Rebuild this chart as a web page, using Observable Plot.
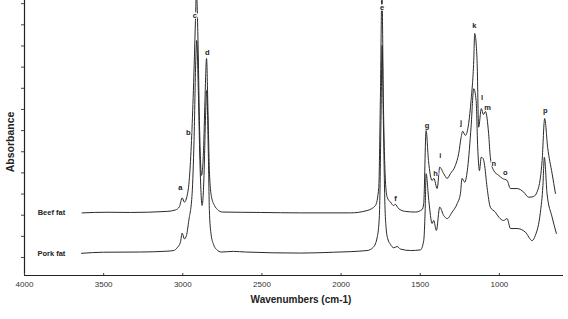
<!DOCTYPE html>
<html>
<head>
<meta charset="utf-8">
<script src="https://cdn.jsdelivr.net/npm/d3@7"></script>
<script src="https://cdn.jsdelivr.net/npm/@observablehq/plot@0.6"></script>
<style>
  html, body { margin: 0; padding: 0; background: #fff; }
  #chart svg { display: block; }
</style>
</head>
<body>
<div id="chart"></div>
<script>
// Beef fat spectrum (wavenumber cm-1, absorbance, offset trace)
const beefWn  = [3636,3478,3330,3099,3046,3021,3004,2990,2974,2958,2945,2933,2920,2914,2904,2895,2882,2869,2860,2850,2841,2832,2819,2800,2781,2750,2510,2257,1941,1836,1783,1762,1752,1742,1733,1720,1709,1688,1669,1657,1638,1594,1530,1488,1478,1463,1448,1425,1414,1393,1377,1352,1330,1309,1278,1257,1242,1232,1215,1194,1179,1162,1156,1141,1131,1114,1101,1088,1068,1057,1036,1004,981,951,930,888,846,815,785,752,730,714,695,667,646];
const beefAbs = [0.296,0.299,0.298,0.303,0.310,0.326,0.367,0.347,0.373,0.463,0.638,0.875,1.205,1.347,1.111,0.733,0.473,0.591,0.827,1.026,0.780,0.496,0.373,0.331,0.312,0.300,0.298,0.296,0.296,0.307,0.331,0.416,0.827,1.347,0.827,0.449,0.370,0.347,0.331,0.336,0.317,0.303,0.300,0.312,0.340,0.685,0.544,0.449,0.459,0.411,0.512,0.482,0.459,0.482,0.520,0.577,0.652,0.682,0.662,0.719,0.827,1.016,1.144,1.016,0.701,0.789,0.761,0.775,0.671,0.558,0.496,0.473,0.459,0.449,0.411,0.411,0.394,0.370,0.373,0.417,0.544,0.742,0.605,0.482,0.388];

// Pork fat spectrum
const porkWn  = [3640,3501,3267,3099,3057,3036,3015,3004,2990,2977,2962,2941,2929,2918,2912,2902,2892,2878,2866,2857,2849,2839,2832,2822,2806,2787,2756,2680,2604,2257,2048,1836,1796,1771,1758,1748,1741,1733,1723,1716,1705,1688,1668,1646,1625,1562,1499,1478,1469,1463,1446,1425,1415,1398,1377,1352,1330,1299,1267,1246,1236,1219,1200,1179,1162,1147,1137,1126,1115,1103,1095,1078,1057,1025,1004,973,951,930,888,836,793,773,741,725,716,699,667,640];
const porkAbs = [0.105,0.110,0.111,0.115,0.118,0.131,0.157,0.200,0.173,0.189,0.260,0.388,0.638,1.016,1.111,0.875,0.544,0.331,0.473,0.733,0.875,0.591,0.307,0.199,0.147,0.123,0.111,0.114,0.111,0.106,0.110,0.118,0.134,0.184,0.284,0.733,1.087,0.733,0.331,0.228,0.173,0.147,0.131,0.137,0.125,0.118,0.121,0.165,0.307,0.481,0.355,0.246,0.260,0.213,0.323,0.284,0.269,0.299,0.339,0.388,0.459,0.441,0.512,0.701,0.883,0.827,0.607,0.496,0.559,0.553,0.529,0.417,0.323,0.299,0.276,0.260,0.269,0.222,0.222,0.205,0.165,0.189,0.299,0.425,0.559,0.388,0.276,0.199];

// Series names and where they are written
const seriesNames = ["Beef fat", "Pork fat"];
const seriesLabelWn = [3830, 3830];
const seriesLabelAbs = [0.298, 0.104];

// Peak letters
const peakLetters = ["a","b","c","d","e","f","g","h","i","j","k","l","m","n","o","p"];
const peakWn  = [3015,2966,2924,2846,1741,1657,1457,1404,1373,1242,1158,1109,1074,1036,962,710];
const peakAbs = [0.417,0.677,1.229,1.056,1.267,0.364,0.709,0.482,0.567,0.725,1.182,0.843,0.796,0.529,0.487,0.780];

// Axis ticks
const xTicks = [4000,3500,3000,2500,2000,1500,1000];
const yTicks = [0.085,0.185,0.285,0.385,0.485,0.585,0.685,0.785,0.885,0.985,1.085,1.185,1.285];

const spectra = [
  ...beefWn.map((w, i) => ({series: seriesNames[0], wn: w, abs: beefAbs[i]})),
  ...porkWn.map((w, i) => ({series: seriesNames[1], wn: w, abs: porkAbs[i]}))
];
const seriesLabels = seriesNames.map((s, i) => ({name: s, wn: seriesLabelWn[i], abs: seriesLabelAbs[i]}));
const peaks = peakLetters.map((l, i) => ({letter: l, wn: peakWn[i], abs: peakAbs[i]}));

const font = "'Liberation Sans', Arial, sans-serif";

const chart = Plot.plot({
  width: 568,
  height: 319,
  marginLeft: 24,
  marginRight: 5,
  marginTop: 0,
  marginBottom: 44,
  style: {fontFamily: font, background: "#fff", color: "#222"},
  x: {domain: [4000, 595]},
  y: {domain: [0, 1.3]},
  marks: [
    Plot.line(spectra, {x: "wn", y: "abs", z: "series", stroke: "#2a2a2a", strokeWidth: 1, curve: "monotone-x", clip: true}),
    Plot.ruleX([4000], {stroke: "#222", strokeWidth: 1.2}),
    Plot.ruleY([0], {stroke: "#222", strokeWidth: 1.2}),
    Plot.axisX({ticks: xTicks, tickSize: -2, tickPadding: 8, fontSize: 8, label: null, tickFormat: d => String(d), stroke: "#444", fill: "#333"}),
    Plot.axisY({ticks: yTicks, tickSize: 3, tickFormat: () => "", label: null, stroke: "#444"}),
    Plot.text(seriesLabels, {x: "wn", y: "abs", text: "name", fontSize: 7.5, fontWeight: "bold", fill: "#222", textAnchor: "middle"}),
    Plot.dot(peaks, {x: "wn", y: "abs", r: 3.2, fill: "white", stroke: "none"}),
    Plot.text(peaks, {x: "wn", y: "abs", text: "letter", fontSize: 7.5, fontWeight: "bold", fill: "#222"}),
    Plot.text(["Absorbance"], {frameAnchor: "left", textAnchor: "middle", lineAnchor: "middle", rotate: -90, dx: -13.5, dy: 4, fontSize: 10.5, fontWeight: "bold", fill: "#222"}),
    Plot.text(["Wavenumbers (cm-1)"], {frameAnchor: "bottom", textAnchor: "middle", lineAnchor: "middle", dx: 7, dy: 24, fontSize: 10, fontWeight: "bold", fill: "#222"})
  ]
});
document.getElementById("chart").append(chart);
</script>
</body>
</html>
